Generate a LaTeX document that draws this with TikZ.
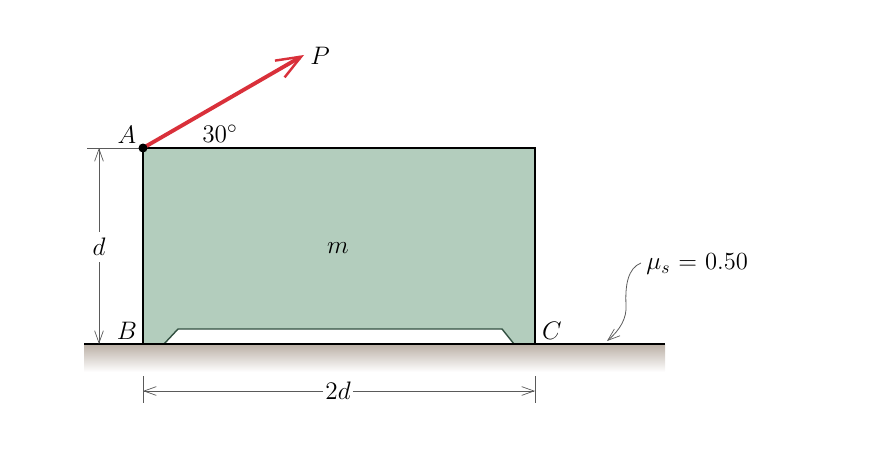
\documentclass[tikz,border=0pt]{standalone}
\usepackage{tikz}
\usetikzlibrary{arrows.meta}
\definecolor{blockgreen}{RGB}{179,205,189}
\definecolor{footgreen}{RGB}{50,80,65}
\definecolor{forcered}{RGB}{217,48,58}
\definecolor{groundbrown}{RGB}{186,175,165}
\definecolor{dimgray}{RGB}{90,90,90}
\tikzset{every node/.style={inner sep=0pt, font=\fontsize{15.5}{18}\selectfont},
  dimline/.style={dimgray, line width=0.45pt},
  dimarrow/.style={dimline, -{Straight Barb[length=7pt,width=5pt,line width=0.4pt]}},
  force/.style={forcered, line width=2.2pt, -{Straight Barb[length=14pt,width=11pt,line width=1.4pt]}},
  outline/.style={black, line width=0.8pt}}

\begin{document}
\begin{tikzpicture}[x=0.02cm,y=-0.02cm]
   \useasboundingbox (0,0) rectangle (884,466);
   % ground
   \shade[top color=groundbrown, bottom color=white] (84,344) rectangle (665,372);
   % block
   \fill[blockgreen] (143,148) -- (535,148) -- (535,344) -- (514,344) -- (502,329)
     -- (178,329) -- (164,344) -- (143,344) -- cycle;
   \draw[outline] (143,344) -- (143,148) -- (535,148) -- (535,344);
   \draw[outline, footgreen] (164,344) -- (178,329) -- (502,329) -- (514,344);
   \draw[outline] (84,344) -- (665,344);
   % corners and labels
   \coordinate (a) at (143,148);
   \coordinate (p) at (304,55);
   \coordinate (dtop) at (99,148);
   \coordinate (dbot) at (99,344);
   \coordinate (wleft) at (143,391);
   \coordinate (wright) at (535,391);
   \coordinate (hit) at (607,341);
   \node (labA) at (127,135) {$A$};
   \node (labP) at (320,56) {$P$};
   \node (ang) at (220,134) {$30^\circ$};
   \node (labB) at (127,331) {$B$};
   \node (labC) at (552,331) {$C$};
   \node (labm) at (338,248) {$m$};
   \node (labd) at (99,247) {$d$};
   \node (wid) at (338,391) {$2d$};
   \node[anchor=west, font=\fontsize{14}{17}\selectfont] (mu) at (646,264) {$\mu_s$ = 0.50};
   % dimensions
   \draw[dimline] (87,148) -- (a);
   \draw[dimarrow] (labd.north) ++(0,-6) -- (dtop);
   \draw[dimarrow] (labd.south) ++(0,6) -- (dbot);
   \draw[dimline] (143,376) -- (143,403);
   \draw[dimline] (535,376) -- (535,403);
   \draw[dimarrow] (wid.west) ++(-2,0) -- (wleft);
   \draw[dimarrow] (wid.east) ++(2,0) -- (wright);
   \draw[dimarrow] (mu.west) ++(-5,-1) .. controls (628,268) and (625,285) ..
     (626,305) .. controls (627,318) and (620,330) .. (hit);
   % force
   \draw[force] (a) -- (p);
   \fill[black] (a) circle (4.5);
\end{tikzpicture}
\end{document}
